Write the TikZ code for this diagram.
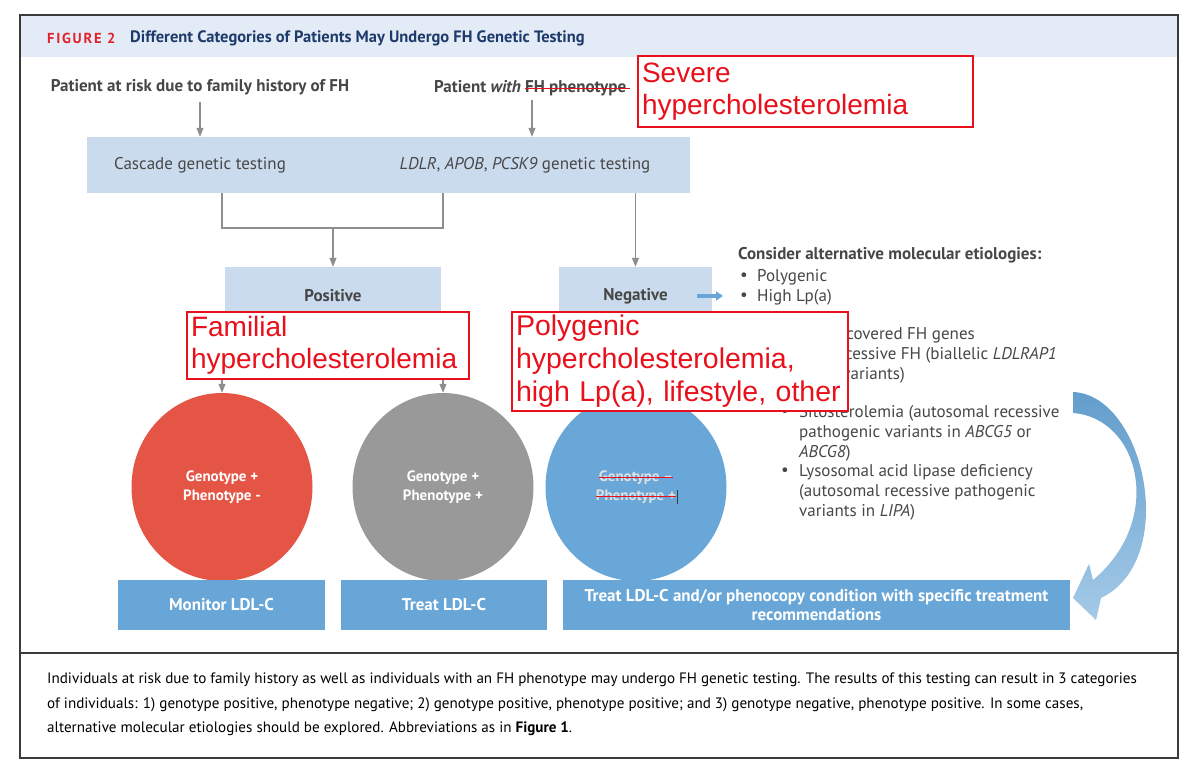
\documentclass[tikz,border=0pt]{standalone}
\usepackage{fontspec}
\setmainfont{PT Sans}
\newfontfamily\arialfont{Liberation Sans}
\usetikzlibrary{arrows.meta,shapes.geometric}
\definecolor{hdr}{HTML}{E3ECF6}
\definecolor{boxlt}{HTML}{CBDBEE}
\definecolor{boxdk}{HTML}{68A6D7}
\definecolor{txt}{HTML}{474747}
\definecolor{arr}{HTML}{8E8E8E}
\definecolor{annot}{HTML}{E8101B}
\definecolor{navy}{HTML}{1E3A6B}
\definecolor{figred}{HTML}{E0202B}
\definecolor{cred}{HTML}{E45545}
\definecolor{cgray}{HTML}{999999}
\definecolor{cblue}{HTML}{69A7D8}
\definecolor{frame}{HTML}{3A3A3A}
\newcommand{\fsz}[2]{\fontsize{#1}{#2}\selectfont}
\begin{document}
\begin{tikzpicture}[x=1pt,y=-1pt,
  lightbox/.style={fill=boxlt, inner sep=0pt, text=txt},
  darkbox/.style={fill=boxdk, inner sep=0pt, text=white, font=\fsz{17}{18.5}\bfseries, align=center},
  annotbox/.style={draw=annot, line width=1.8pt, fill=white, text=annot, font=\arialfont\fsz{28}{32.5}, align=left, inner xsep=3pt, inner ysep=0pt},
  circ/.style={ellipse, inner sep=0pt, minimum width=181pt, minimum height=188pt, text=white, font=\fsz{15}{19}\bfseries, align=center},
  gline/.style={draw=arr, line width=1.1pt},
  garrow/.style={gline, -{Triangle[width=7pt,length=9pt]}},
  maintext/.style={text=txt, inner sep=0pt, font=\fsz{17}{20}},
  listtext/.style={text=txt, inner sep=0pt, font=\fsz{17}{20}, anchor=west},
  captext/.style={text=black, inner sep=0pt, font=\fsz{15.1}{18}, anchor=west},
  strike/.style={draw=annot, line width=1pt}
]
\useasboundingbox (0,0) rectangle (1200,783);
\fill[white] (0,0) rectangle (1200,783);
% frame and header
\fill[hdr] (20,15) rectangle (1178,57);
\draw[frame, line width=1.6pt] (20,15) rectangle (1178,653);
\draw[frame, line width=1.6pt] (20,653) rectangle (1178,758);
\node[anchor=west, inner sep=0pt, text=figred, font=\fsz{14.5}{16}\bfseries\addfontfeatures{LetterSpace=12}] (fig) at (47,38) {FIGURE 2};
\node[anchor=west, inner sep=0pt, text=navy, font=\fsz{16.5}{18}\bfseries] (title) at (130,38) {Different Categories of Patients May Undergo FH Genetic Testing};

% top texts
\node[maintext, font=\fsz{17}{20}\bfseries] (risk) at (200,87) {Patient at risk due to family history of FH};
\node[maintext, font=\fsz{17}{20}\bfseries, anchor=west] (pw) at (434,87) {Patient \textit{with}};
\node[maintext, font=\fsz{17}{20}\bfseries, anchor=base west] (fhp) at ([xshift=4pt]pw.base east) {FH phenotype};
\draw[strike] ([yshift=4.5pt]fhp.base west) -- ([xshift=4pt,yshift=4.5pt]fhp.base east);

% cascade box
\node[lightbox, minimum width=603pt, minimum height=56pt] (casc) at (388.5,165) {};
\node[maintext] (casct) at (200,165) {Cascade genetic testing};
\node[maintext] (ldlr) at (525,165) {\textit{LDLR}, \textit{APOB}, \textit{PCSK9} genetic testing};
\draw[garrow] (risk.south) ++(0,7) coordinate (r0) -- (r0 |- casc.north);
\draw[garrow] (532,100) coordinate (p0) -- (p0 |- casc.north);

% positive / negative
\node[lightbox, minimum width=216pt, minimum height=58pt, font=\fsz{17}{20}\bfseries] (pos) at (333,296) {Positive};
\node[lightbox, minimum width=153pt, minimum height=58pt, font=\fsz{17}{20}\bfseries] (neg) at (635.5,296) {Negative};
\coordinate (bl) at (222,228);
\coordinate (br) at (443,228);
\coordinate (bm) at (333,228);
\draw[gline] (bl |- casc.south) -- (bl) -- (br) -- (br |- casc.south);
\draw[garrow] (bm) -- (pos.north);
\draw[garrow] (neg.north |- casc.south) -- (neg.north);
\coordinate (na) at (697,296);
\coordinate (nb) at (723,296);
\draw[draw=boxdk, line width=3.5pt, -{Triangle[width=9pt,length=7pt]}] (na) -- (nb);

% circles
\node[circ, fill=cred] (c1) at (222,487) {Genotype +\\Phenotype -};
\node[circ, fill=cgray] (c2) at (443,487) {Genotype +\\Phenotype +};
\node[circ, fill=cblue] (c3) at (636,487) {};
\node[inner sep=0pt, text=white!88!black, font=\fsz{15}{19}\bfseries] (g3) at (636,478) {Genotype --};
\node[inner sep=0pt, text=white!88!black, font=\fsz{15}{19}\bfseries] (p3) at (636,497) {Phenotype +};
\draw[strike] ([yshift=4pt]g3.base west) -- ([yshift=4pt]g3.base east);
\draw[strike] ([yshift=4pt]p3.base west) -- ([yshift=4pt]p3.base east);
\draw[draw=frame, line width=0.8pt] ([xshift=1pt,yshift=-3pt]p3.base east) -- ([xshift=1pt,yshift=11pt]p3.base east);
\draw[garrow] (pos.south -| c1.north) -- (c1.north);
\draw[garrow] (pos.south -| c2.north) -- (c2.north);

% bottom boxes
\node[darkbox, minimum width=207pt, minimum height=50pt] (mon) at (221.5,605) {Monitor LDL-C};
\node[darkbox, minimum width=206pt, minimum height=50pt] (trt) at (444,605) {Treat LDL-C};
\node[darkbox, minimum width=507pt, minimum height=50pt] (trt2) at (816.5,605) {Treat LDL-C and/or phenocopy condition with specific treatment\\recommendations};

% list on the right
\node[listtext, font=\fsz{17}{20}\bfseries] (cons) at (738,255) {Consider alternative molecular etiologies:};
\node[listtext] (b1) at (740,277) {•};
\node[listtext] (l1) at (757,277) {Polygenic};
\node[listtext] (b2) at (740,297) {•};
\node[listtext] (l2) at (757,297) {High Lp(a)};
\node[listtext, anchor=east] (l3) at (975,335) {Undiscovered FH genes};
\node[listtext, anchor=east] (l4) at (1057,355) {Autosomal recessive FH (biallelic \textit{LDLRAP1}};
\node[listtext, anchor=east] (l5) at (905,375) {pathogenic variants)};
\node[listtext] (b6) at (781,413) {•};
\node[listtext] (l6) at (799,413) {Sitosterolemia (autosomal recessive};
\node[listtext] (l7) at (799,433) {pathogenic variants in \textit{ABCG5} or};
\node[listtext] (l8) at (799,453) {\textit{ABCG8})};
\node[listtext] (b9) at (781,472) {•};
\node[listtext] (l9) at (799,472) {Lysosomal acid lipase deficiency};
\node[listtext] (l10) at (799,492) {(autosomal recessive pathogenic};
\node[listtext] (l11) at (799,512) {variants in \textit{LIPA})};

% curved block arrow
\shade[top color=boxdk!95!black, bottom color=boxdk!60!white]
  (1073,392) .. controls (1145,395) and (1180,560) .. (1101,598)
  -- (1096,620) -- (1073,598) -- (1089,564) -- (1093,580)
  .. controls (1165,520) and (1140,418) .. (1073,413) -- cycle;

% red annotation boxes
\node[annotbox, minimum width=335pt, minimum height=71pt, text width=327pt] (sev) at (805.5,91.5) {Severe\\hypercholesterolemia};
\node[annotbox, minimum width=282pt, minimum height=67pt, text width=274pt] (fam) at (328,345.5) {Familial\\hypercholesterolemia};
\node[annotbox, minimum width=336pt, minimum height=99pt, text width=328pt, font=\arialfont\fsz{28.5}{33}] (poly) at (680,361.5) {Polygenic\\hypercholesterolemia,\\high Lp(a), lifestyle, other};

% caption
\node[captext] (cap1) at (47,680) {Individuals at risk due to family history as well as individuals with an FH phenotype may undergo FH genetic testing. The results of this testing can result in 3 categories};
\node[captext] (cap2) at (47,705) {of individuals: 1) genotype positive, phenotype negative; 2) genotype positive, phenotype positive; and 3) genotype negative, phenotype positive. In some cases,};
\node[captext] (cap3) at (47,729) {alternative molecular etiologies should be explored. Abbreviations as in \textbf{Figure 1}.};
\end{tikzpicture}
\end{document}
